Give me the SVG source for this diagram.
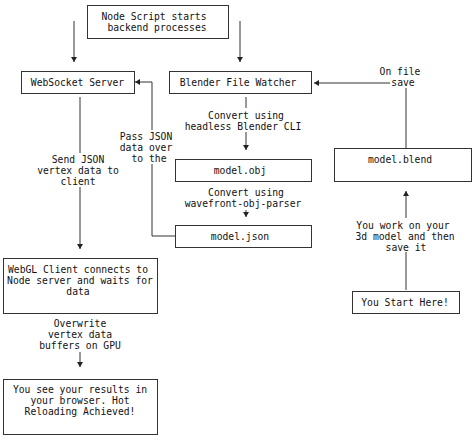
<svg xmlns="http://www.w3.org/2000/svg" width="474" height="440" viewBox="0 0 474 440">
<defs>
<style>
.box{fill:#fff;stroke:#333;stroke-width:1}
.t{font-family:"DejaVu Sans Mono","Liberation Mono",monospace;font-size:9.7px;fill:#111;text-anchor:middle}
.e{fill:none;stroke:#333;stroke-width:1}
</style>
<marker id="ah" markerUnits="userSpaceOnUse" markerWidth="6" markerHeight="6" refX="5" refY="3" orient="auto">
<path d="M0,0 L5,3 L0,6 Z" fill="#222"/>
</marker>
</defs>
<rect width="474" height="440" fill="#fff"/>
<g id="connectors">
<path class="e" d="M74,21 V62" marker-end="url(#ah)"/>
<path class="e" d="M240,21 V62" marker-end="url(#ah)"/>
<path class="e" d="M80,97 V153"/>
<path class="e" d="M80,187 V249" marker-end="url(#ah)"/>
<text class="t" x="78" y="162.5">Send JSON</text>
<text class="t" x="78" y="173.5">vertex data to</text>
<text class="t" x="78" y="184.5">client</text>
<path class="e" d="M80,352 V367" marker-end="url(#ah)"/>
<text class="t" x="80" y="326.5">Overwrite</text>
<text class="t" x="80" y="337.5">vertex data</text>
<text class="t" x="80" y="348.5">buffers on GPU</text>
<path class="e" d="M246,97 V108"/>
<path class="e" d="M246,132 V150" marker-end="url(#ah)"/>
<text class="t" x="246" y="118.5">Convert using</text>
<text class="t" x="243" y="129.5">headless Blender CLI</text>
<path class="e" d="M246,210 V217" marker-end="url(#ah)"/>
<text class="t" x="246" y="195.5">Convert using</text>
<text class="t" x="243" y="206.5">wavefront-obj-parser</text>
<path class="e" d="M175,236 H152 V164"/>
<path class="e" d="M152,130 V82 H135" marker-end="url(#ah)"/>
<text class="t" x="146" y="139.5">Pass JSON</text>
<text class="t" x="146" y="150.5">data over</text>
<text class="t" x="149" y="161.5">to the</text>
<path class="e" d="M406,148 V88"/>
<path class="e" d="M390,83 H314" marker-end="url(#ah)"/>
<text class="t" x="400" y="74.5">On file</text>
<text class="t" x="403" y="85.5">save</text>
<path class="e" d="M406,290 V252"/>
<path class="e" d="M406,218 V191" marker-end="url(#ah)"/>
<text class="t" x="403" y="228.5">You work on your</text>
<text class="t" x="405" y="239.5">3d model and then</text>
<text class="t" x="406" y="250.5">save it</text>
</g>
<g id="node-start">
<rect class="box" x="87.5" y="5.5" width="141" height="33"/>
<text class="t" x="154" y="19.5">Node Script starts</text>
<text class="t" x="157" y="30.5">backend processes</text>
</g>
<g id="node-websocket">
<rect class="box" x="21.5" y="71.5" width="113" height="22"/>
<text class="t" x="77.5" y="85.5">WebSocket Server</text>
</g>
<g id="node-watcher">
<rect class="box" x="169.5" y="71.5" width="142" height="22"/>
<text class="t" x="238" y="85.5">Blender File Watcher</text>
</g>
<g id="node-obj">
<rect class="box" x="175.5" y="159.5" width="136" height="22"/>
<text class="t" x="240" y="173.5">model.obj</text>
</g>
<g id="node-json">
<rect class="box" x="175.5" y="225.5" width="136" height="22"/>
<text class="t" x="240" y="239.5">model.json</text>
</g>
<g id="node-blend">
<rect class="box" x="334.5" y="148.5" width="137" height="33"/>
<text class="t" x="400" y="162.5">model.blend</text>
</g>
<g id="node-start-here">
<rect class="box" x="352.5" y="291.5" width="107" height="22"/>
<text class="t" x="405" y="305.5">You Start Here!</text>
</g>
<g id="node-webgl">
<rect class="box" x="3.5" y="258.5" width="154" height="55"/>
<text class="t" x="78" y="272.5">WebGL Client connects to</text>
<text class="t" x="80" y="283.5">Node server and waits for</text>
<text class="t" x="78" y="294.5">data</text>
</g>
<g id="node-result">
<rect class="box" x="3.5" y="379.5" width="154" height="55"/>
<text class="t" x="80" y="392.5">You see your results in</text>
<text class="t" x="80" y="403.5">your browser. Hot</text>
<text class="t" x="80" y="414.5">Reloading Achieved!</text>
</g>
</svg>
